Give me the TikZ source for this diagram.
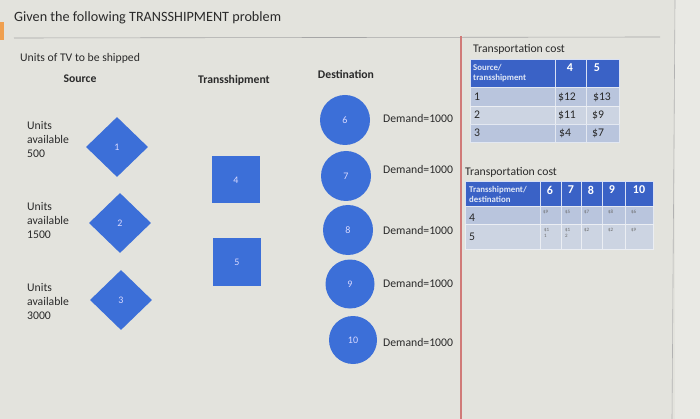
\documentclass[tikz,border=0pt]{standalone}
\usepackage{fontspec}
\setmainfont{Carlito}
\usetikzlibrary{shapes.geometric}
\definecolor{bg}{HTML}{E3E3DD}
\definecolor{bgr}{HTML}{E9E9E4}
\definecolor{nodeblue}{HTML}{3C6FD8}
\definecolor{headblue}{HTML}{3A62C6}
\definecolor{rowa}{HTML}{B9C5DD}
\definecolor{rowb}{HTML}{CCD4E2}
\definecolor{txt}{HTML}{2A2A2A}
\definecolor{redline}{HTML}{D07A78}
\definecolor{orangeblob}{HTML}{F0A050}
\tikzset{
  lbl/.style={anchor=west, text=txt, font=\fontsize{11.7}{14}\selectfont, inner sep=0pt},
  ulbl/.style={anchor=north west, text=txt, font=\fontsize{11.7}{14}\selectfont, inner sep=0pt, align=left},
  dia/.style={diamond, fill=nodeblue, minimum width=62pt, minimum height=60pt, inner sep=0pt, text=white!85!blue, font=\fontsize{10}{11}\selectfont},
  sq/.style={rectangle, fill=nodeblue, minimum width=48pt, minimum height=47pt, inner sep=0pt, text=white!85!blue, font=\fontsize{10}{11}\selectfont},
  circ/.style={circle, fill=nodeblue, minimum size=50pt, inner sep=0pt, text=white!85!blue, font=\fontsize{10}{11}\selectfont},
  hcell/.style={fill=headblue, draw=white!80!headblue, line width=0.8pt},
  cella/.style={fill=rowa, draw=white!60!rowa, line width=0.8pt},
  cellb/.style={fill=rowb, draw=white!60!rowb, line width=0.8pt},
  htxt/.style={text=white, font=\fontsize{12}{14}\bfseries\selectfont, inner sep=0pt},
  hstxt/.style={text=white!85!headblue, font=\fontsize{8.8}{10}\bfseries\selectfont, inner sep=0pt, align=left, anchor=west},
  ctxt/.style={text=txt, font=\fontsize{11.7}{14}\selectfont, inner sep=0pt},
  tinytxt/.style={text=txt!70, font=\fontsize{5}{6}\selectfont, inner sep=0pt, align=left, anchor=north west}
}
\begin{document}
\begin{tikzpicture}[x=1pt,y=-1pt]
\useasboundingbox (0,0) rectangle (700,419);
\fill[bg] (0,0) rectangle (700,419);
\fill[bgr] (675,0) rectangle (700,419);
\draw[gray!60, line width=0.6pt] (675,0) -- (672,419);
\fill[orangeblob] (0,22) rectangle (4,40);
% title
\node[anchor=west, text=txt, font=\fontsize{14.2}{16}\selectfont, inner sep=0pt] (title) at (14,18) {Given the following TRANSSHIPMENT problem};
\coordinate (hl1) at (14,38);
\coordinate (hl2) at (660,37);
\draw[gray!70, line width=0.6pt] (hl1) -- (hl2);
\coordinate (rl1) at (461,36);
\coordinate (rl2) at (461,419);
\draw[redline, line width=1.2pt] (rl1) -- (rl2);
% headings
\node[lbl] (units) at (20,58) {Units of TV to be shipped};
\node[lbl, anchor=center, font=\fontsize{11.7}{14}\bfseries\selectfont] (hsrc) at (80,79) {Source};
\node[lbl, anchor=center, font=\fontsize{11.7}{14}\bfseries\selectfont] (htr) at (234,80) {Transshipment};
\node[lbl, anchor=center, font=\fontsize{11.7}{14}\bfseries\selectfont] (hdst) at (346,74) {Destination};
% sources
\node[ulbl] (u1) at (27,121) {Units\\available\\500};
\node[ulbl] (u2) at (27,202) {Units\\available\\1500};
\node[ulbl] (u3) at (27,283) {Units\\available\\3000};
\node[dia] (n1) at (117,147) {1};
\node[dia] (n2) at (120,223) {2};
\node[dia] (n3) at (121,300) {3};
% transshipment
\node[sq] (n4) at (236,180) {4};
\node[sq] (n5) at (237,262) {5};
% destinations
\node[circ] (n6) at (345,120) {6};
\node[circ] (n7) at (346,176) {7};
\node[circ] (n8) at (348,230) {8};
\node[circ, minimum size=49pt] (n9) at (350,284) {9};
\node[circ, minimum size=48pt] (n10) at (353,340) {10};
\node[lbl] (d6) at (383,118) {Demand=1000};
\node[lbl] (d7) at (383,169) {Demand=1000};
\node[lbl] (d8) at (383,230) {Demand=1000};
\node[lbl] (d9) at (383,283) {Demand=1000};
\node[lbl] (d10) at (383,342) {Demand=1000};
% table 1
\node[lbl] (t1title) at (473,49) {Transportation cost};
\draw[hcell] (470,59) rectangle (555,87);
\draw[hcell] (555,59) rectangle (586,87);
\draw[hcell] (586,59) rectangle (619,87);
\draw[cella] (470,87) rectangle (555,106);
\draw[cella] (555,87) rectangle (586,106);
\draw[cella] (586,87) rectangle (619,106);
\draw[cellb] (470,106) rectangle (555,124);
\draw[cellb] (555,106) rectangle (586,124);
\draw[cellb] (586,106) rectangle (619,124);
\draw[cella] (470,124) rectangle (555,142);
\draw[cella] (555,124) rectangle (586,142);
\draw[cella] (586,124) rectangle (619,142);
\node[hstxt] (h1a) at (473,73) {Source/\\transshipment};
\node[htxt] (h1b) at (570,68) {4};
\node[htxt] (h1c) at (597,68) {5};
\node[ctxt, anchor=west] (r11) at (474,97) {1};
\node[ctxt, anchor=west] (r12) at (474,115) {2};
\node[ctxt, anchor=west] (r13) at (474,133) {3};
\node[ctxt] (c14) at (567,97) {\$12};
\node[ctxt] (c15) at (602,97) {\$13};
\node[ctxt] (c24) at (567,115) {\$11};
\node[ctxt] (c25) at (598,115) {\$9};
\node[ctxt] (c34) at (565,133) {\$4};
\node[ctxt] (c35) at (598,133) {\$7};
% table 2
\node[lbl] (t2title) at (465,172) {Transportation cost};
\draw[hcell] (465,181) rectangle (540,206);
\foreach \a/\b in {540/561,561/581,581/602,602/625,625/653}{
  \draw[hcell] (\a,181) rectangle (\b,206);
  \draw[cella] (\a,206) rectangle (\b,224);
  \draw[cellb] (\a,224) rectangle (\b,249);
}
\draw[cella] (465,206) rectangle (540,224);
\draw[cellb] (465,224) rectangle (540,249);
\node[hstxt] (h2a) at (469,194) {Transshipment/\\destination};
\node[htxt] (h26) at (550,190) {6};
\node[htxt] (h27) at (571,190) {7};
\node[htxt] (h28) at (591,190) {8};
\node[htxt] (h29) at (612,190) {9};
\node[htxt] (h210) at (639,190) {10};
\node[ctxt, anchor=west] (r24) at (469,218) {4};
\node[ctxt, anchor=west] (r25) at (469,237) {5};
\node[tinytxt] (v46) at (543,210) {\$9};
\node[tinytxt] (v47) at (565,210) {\$5};
\node[tinytxt] (v48) at (584,210) {\$7};
\node[tinytxt] (v49) at (608,210) {\$8};
\node[tinytxt] (v410) at (631,210) {\$6};
\node[tinytxt] (v56) at (544,228) {\$1\\1};
\node[tinytxt] (v57) at (565,228) {\$1\\2};
\node[tinytxt] (v58) at (584,228) {\$2};
\node[tinytxt] (v59) at (608,228) {\$2};
\node[tinytxt] (v510) at (631,228) {\$9};
\end{tikzpicture}
\end{document}
